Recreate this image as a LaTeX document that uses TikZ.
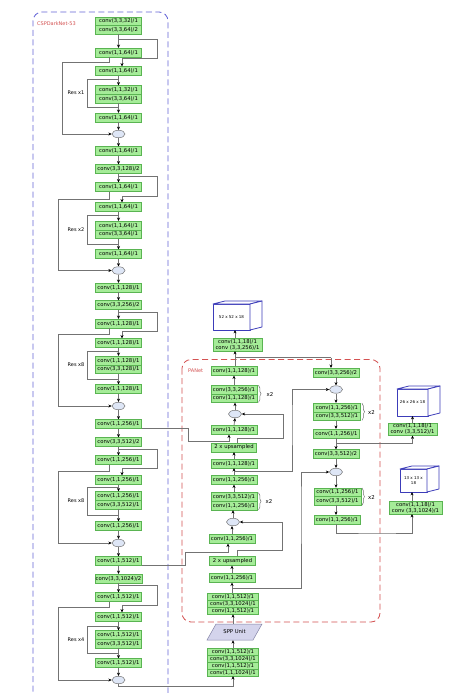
\documentclass[tikz,border=0pt]{standalone}
\usepackage{fontspec}
\setmainfont{DejaVu Sans}
\usetikzlibrary{arrows.meta,decorations.pathreplacing,shapes.geometric,calc}
\definecolor{bfill}{RGB}{165,236,152}
\definecolor{bdraw}{RGB}{90,180,82}
\definecolor{lgray}{RGB}{115,115,115}
\definecolor{efill}{RGB}{222,230,246}
\definecolor{bluedash}{RGB}{100,100,215}
\definecolor{reddash}{RGB}{212,82,82}
\definecolor{cubeblue}{RGB}{60,60,185}
\definecolor{sppfill}{RGB}{212,212,236}
\definecolor{sppdraw}{RGB}{130,130,165}
\newcommand\mycubeat[4]{%
  \filldraw[cb] (#1,#2) rectangle ({#1+#3},{#2+#4});
  \filldraw[cb] (#1,#2) -- ({#1+12},{#2-3}) -- ({#1+#3+12},{#2-3}) -- ({#1+#3},#2) -- cycle;
  \filldraw[cb] ({#1+#3},#2) -- ({#1+#3+12},{#2-3}) -- ({#1+#3+12},{#2+#4-3}) -- ({#1+#3},{#2+#4}) -- cycle;
}
\begin{document}
\begin{tikzpicture}[x=1pt,y=-1pt,
  cv/.style={draw=bdraw,fill=bfill,line width=0.5pt,inner xsep=0.5pt,inner ysep=0pt,minimum width=46,minimum height=8.6,font=\fontsize{5.3}{6}\selectfont},
  cs/.style={cv,minimum width=51,minimum height=6.8},
  co/.style={cv,align=center,minimum height=12.5,font=\fontsize{5.3}{5.9}\selectfont},
  el/.style={ellipse,draw=lgray,fill=efill,line width=0.5pt,minimum width=13,minimum height=7.5,inner sep=0pt},
  ln/.style={draw=lgray,line width=0.75pt},
  ar/.style={ln,-{Stealth[length=3.4pt,width=3pt,color=black]}},
  brc/.style={draw=lgray,line width=0.5pt,decorate,decoration={brace,amplitude=2.5pt}},
  xl/.style={font=\fontsize{5.4}{6}\selectfont,inner sep=0pt},
  rl/.style={font=\fontsize{5}{6}\selectfont,inner sep=0pt},
  redl/.style={text=reddash,font=\fontsize{5}{6}\selectfont,inner sep=0pt},
  cb/.style={draw=cubeblue,fill=white,line width=0.8pt,line join=round},
  cl/.style={font=\fontsize{4}{4.8}\selectfont,inner sep=0pt,align=center},
  bdash/.style={draw=bluedash,line width=0.8pt,dash pattern=on 6pt off 3.5pt},
  rdash/.style={draw=reddash,line width=0.8pt,dash pattern=on 6pt off 3.5pt}
]
\useasboundingbox (0,0) rectangle (474,693);
\fill[white] (0,0) rectangle (474,693);

% ---------- frames ----------
\begin{scope}
\clip (0,0) rectangle (474,693);
\draw[bdash,rounded corners=9] (33,720) -- (33,12) -- (168,12) -- (168,720);
\end{scope}
\node[redl,anchor=west] (lblcsp) at (37,24) {CSPDarkNet-53};

% ---------- backbone nodes ----------
\node[cv] (b1) at (118.5,21.3) {conv(3,3,32)/1};
\node[cv] (b2) at (118.5,29.9) {conv(3,3,64)/2};
\node[cv] (S1) at (118.5,52.5) {conv(1,1,64)/1};
\node[cv] (M1) at (118.5,71) {conv(1,1,64)/1};
\node[cv] (P1a) at (118.5,90) {conv(1,1,32)/1};
\node[cv] (P1b) at (118.5,98.6) {conv(3,3,64)/1};
\node[cv] (T1) at (118.5,117.5) {conv(1,1,64)/1};
\node[el] (E1) at (118.5,134) {};

\node[cv] (c2a) at (118.5,151) {conv(1,1,64)/1};
\node[cv] (c2b) at (118.5,169) {conv(3,3,128)/2};
\node[cv] (S2) at (118.5,187) {conv(1,1,64)/1};
\node[cv] (M2) at (118.5,207) {conv(1,1,64)/1};
\node[cv] (P2a) at (118.5,225.5) {conv(1,1,64)/1};
\node[cv] (P2b) at (118.5,234.1) {conv(3,3,64)/1};
\node[cv] (T2) at (118.5,254) {conv(1,1,64)/1};
\node[el] (E2) at (118.5,270.5) {};

\node[cv] (c3a) at (118.5,287.5) {conv(1,1,128)/1};
\node[cv] (c3b) at (118.5,305) {conv(3,3,256)/2};
\node[cv] (S3) at (118.5,323.5) {conv(1,1,128)/1};
\node[cv] (M3) at (118.5,343) {conv(1,1,128)/1};
\node[cv] (P3a) at (118.5,360.5) {conv(1,1,128)/1};
\node[cv] (P3b) at (118.5,369.1) {conv(3,3,128)/1};
\node[cv] (T3) at (118.5,389) {conv(1,1,128)/1};
\node[el] (E3) at (118.5,406) {};

\node[cv] (c4a) at (118.5,424) {conv(1,1,256)/1};
\node[cv] (c4b) at (118.5,442) {conv(3,3,512)/2};
\node[cv] (S4) at (118.5,460) {conv(1,1,256)/1};
\node[cv] (M4) at (118.5,480) {conv(1,1,256)/1};
\node[cv] (P4a) at (118.5,496) {conv(1,1,256)/1};
\node[cv] (P4b) at (118.5,504.6) {conv(3,3,512)/1};
\node[cv] (T4) at (118.5,526) {conv(1,1,256)/1};
\node[el] (E4) at (118.5,543) {};

\node[cv] (c5a) at (118.5,561) {conv(1,1,512)/1};
\node[cv] (c5b) at (118.5,578.5) {conv(3,3,1024)/2};
\node[cv] (S5) at (118.5,597) {conv(1,1,512)/1};
\node[cv] (M5) at (118.5,617) {conv(1,1,512)/1};
\node[cv] (P5a) at (118.5,635) {conv(1,1,512)/1};
\node[cv] (P5b) at (118.5,643.6) {conv(3,3,512)/1};
\node[cv] (T5) at (118.5,663) {conv(1,1,512)/1};
\node[el] (E5) at (118.5,680) {};

\node[rl] (r1) at (76,93) {Res x1};
\node[rl] (r2) at (76,229.5) {Res x2};
\node[rl] (r3) at (76,365) {Res x8};
\node[rl] (r4) at (76,501) {Res x8};
\node[rl] (r5) at (76,639.5) {Res x4};

% ---------- backbone wiring ----------
\foreach \bD/\bS/\bM/\bPa/\bPb/\bT/\bE/\th/\lh/\sh/\lx/\rt/\rb in {
  b2/S1/M1/P1a/P1b/T1/E1/39.3/58.5/62/62/79/107,
  c2b/S2/M2/P2a/P2b/T2/E2/176/196.5/199/58/215/244,
  c3b/S3/M3/P3a/P3b/T3/E3/312/331.5/334/58/351/379,
  c4b/S4/M4/P4a/P4b/T4/E4/449/468/471/58/487.5/515,
  c5b/S5/M5/P5a/P5b/T5/E5/585/605/607.5/58/626/653}
{
  \draw[ar] (\bD.south) -- (\bS.north);
  \draw[ar] (118.5,\th) -- (157,\th) -- (157,\lh) -- (122,\lh) -- ($(\bM.north)+(3.5,0)$);
  \draw[ar] ($(\bS.south)+(-9.5,0)$) |- (\lx,\sh) |- (\bE.west);
  \draw[ar] (\bM.south) -- (\bPa.north);
  \draw[ln] (118.5,\rt) -- (87,\rt) -- (87,\rb) -- (118.5,\rb);
  \draw[ar] (\bPb.south) -- (\bT.north);
  \draw[ar] (\bT.south) -- (\bE.north);
}
\draw[ar] (E1.south) -- (c2a.north);
\draw[ar] (c2a.south) -- (c2b.north);
\draw[ar] (E2.south) -- (c3a.north);
\draw[ar] (c3a.south) -- (c3b.north);
\draw[ar] (E3.south) -- (c4a.north);
\draw[ar] (c4a.south) -- (c4b.north);
\draw[ar] (E4.south) -- (c5a.north);
\draw[ar] (c5a.south) -- (c5b.north);

% ---------- PANet frame ----------
\draw[ln] (235,357.5) -- (331,357.5);
\draw[rdash,rounded corners=9] (182,359.5) rectangle (380,622);
\node[redl,anchor=west] (lblpan) at (188,371) {PANet};

% ---------- cubes ----------
\mycubeat{213}{304}{37}{26}
\node[cl] (t52) at (231.5,317) {52 x 52 x 18};
\coordinate (cube52b) at (235,330);
\mycubeat{397}{389}{31}{27}
\node[cl] (t26) at (412.5,402) {26 x 26 x 18};
\coordinate (cube26b) at (412.5,416);
\mycubeat{400}{469}{27}{23}
\node[cl] (t13) at (413.5,480.5) {13 x 13 x\\18};
\coordinate (cube13b) at (412,492);

% ---------- output boxes ----------
\node[co,minimum width=49] (o52) at (237.5,344.5) {conv(1,1,18)/1\\conv (3,3,256)/1};
\node[co,minimum width=49] (o26) at (412.5,429) {conv(1,1,18)/1\\conv (3,3,512)/1};
\node[co,minimum width=53] (o13) at (415.5,507.5) {conv(1,1,18)/1\\conv (3,3,1024)/1};

% ---------- PANet left column ----------
\node[cv] (Q1) at (234,371) {conv(1,1,128)/1};
\node[cv] (Q2a) at (234,389.5) {conv(3,3,256)/1};
\node[cv] (Q2b) at (234,398.1) {conv(1,1,128)/1};
\node[el] (QE1) at (235,414) {};
\node[cv] (Q3) at (234,430) {conv(1,1,128)/1};
\node[cv,minimum width=45] (Q4) at (234,447.5) {2 x upsampled};
\node[cv] (Q5) at (234,463.5) {conv(1,1,128)/1};
\node[cv] (Q6) at (234,480) {conv(1,1,256)/1};
\node[cv] (Q7a) at (234,497) {conv(3,3,512)/1};
\node[cv] (Q7b) at (234,505.6) {conv(1,1,256)/1};
\node[el] (QE2) at (233,522) {};
\node[cv] (Q8) at (232,539) {conv(1,1,256)/1};
\node[cv] (Q9) at (232.5,561) {2 x upsampled};
\node[cv] (Q10) at (232,578) {conv(1,1,256)/1};
\node[cs] (Q11a) at (233,597) {conv(1,1,512)/1};
\node[cs] (Q11b) at (233,603.8) {conv(3,3,1024)/1};
\node[cs] (Q11c) at (233,610.6) {conv(1,1,512)/1};
\fill[sppfill,draw=sppdraw,line width=0.5pt] (216,624) -- (262,624) -- (253,640) -- (207,640) -- cycle;
\node[inner sep=0pt,minimum width=46,minimum height=16,font=\fontsize{5.3}{6}\selectfont] (spp) at (234.5,632) {SPP Unit};
\node[cs] (Q12a) at (233,652) {conv(1,1,512)/1};
\node[cs] (Q12b) at (233,658.8) {conv(3,3,1024)/1};
\node[cs] (Q12c) at (233,665.6) {conv(1,1,512)/1};
\node[cs] (Q12d) at (233,672.4) {conv(1,1,1024)/1};

\draw[brc] (258.5,385.2) -- (258.5,402.4);
\node[xl] (xa) at (270,394) {x2};
\draw[brc] (258.5,492.7) -- (258.5,509.9);
\node[xl] (xb) at (269,501.5) {x2};

% ---------- right column ----------
\node[cv] (R1) at (336,372.5) {conv(3,3,256)/2};
\node[el] (RE1) at (336,389.5) {};
\node[cv,minimum width=47] (R2a) at (337,407.5) {conv(1,1,256)/1};
\node[cv,minimum width=47] (R2b) at (337,416.1) {conv(3,3,512)/1};
\node[cv] (R3) at (336.5,433.5) {conv(1,1,256)/1};
\node[cv] (R4) at (336,454) {conv(3,3,512)/2};
\node[el] (RE2) at (336,472) {};
\node[cv,minimum width=47] (R5a) at (337.5,492.3) {conv(1,1,256)/1};
\node[cv,minimum width=47] (R5b) at (337.5,500.9) {conv(3,3,512)/1};
\node[cv] (R6) at (337,519.5) {conv(1,1,256)/1};
\draw[brc] (362,403.2) -- (362,420.4);
\node[xl] (xc) at (371.5,412) {x2};
\draw[brc] (362,488) -- (362,505.2);
\node[xl] (xd) at (371.5,497) {x2};

% ---------- PANet wiring ----------
\draw[ar] ($(Q1.north)+(1,0)$) -- ($(o52.south)+(-2.5,0)$);
\draw[ar] ($(o52.north)+(-2.5,0)$) -- (cube52b);
\draw[ar] (331,357.5) -- ($(R1.north)+(-5,0)$);
\draw[ar] (Q2a.north) -- (Q1.south);
\draw[ar] (QE1.north) -- ($(Q2b.south)+(1,0)$);
\draw[ar] (Q3.north) -- (QE1.south);
\draw[ar] (c4a.south east) -| (188,441) -| ($(Q3.south)+(-5,0)$);
\draw[ar] ($(Q4.north)+(3,0)$) |- (283,438) |- (QE1.east);
\draw[ar] (Q5.north) -- (Q4.south);
\draw[ar] (Q6.north) -- (Q5.south);
\draw[ar] (234,471.5) -| (292,420) |- (RE1.west);
\draw[ar] (Q7a.north) -- (Q6.south);
\draw[ar] (QE2.north) -- ($(Q7b.south)+(-1,0)$);
\draw[ar] (Q8.north) -- ($(QE2.south)+(-1,0)$);
\draw[ar] (c5a.south east) -| (185,552) -| ($(Q8.south)+(-4,0)$);
\draw[ar] ($(Q9.north)+(5,0)$) |- (282,550) |- (QE2.east);
\draw[ar] (Q10.north) -- ($(Q9.south)+(-0.5,0)$);
\draw[ar] ($(Q11a.north)+(-1,0)$) -- (Q10.south);
\draw[ar] (233,588) -| (301,500) |- (RE2.west);
\draw[ar] ($(spp.north)+(-1.5,0)$) -- (Q11c.south);
\draw[ar] (Q12a.north) -- ($(spp.south)+(-1.5,0)$);
\draw[ar] (E5.south) -- (118.5,686.5) -| (Q12d.south);

% ---------- right column wiring ----------
\draw[ar] (R1.south) -- (RE1.north);
\draw[ar] (RE1.south) -- ($(R2a.north)+(-1,0)$);
\draw[ar] ($(R2b.south)+(-1,0)$) -- ($(R3.north)+(-0.5,0)$);
\draw[ar] ($(R3.south)+(-0.5,0)$) -- (R4.north);
\draw[ar] (336,443) -| (o26.south);
\draw[ar] (o26.north) -- (cube26b);
\draw[ar] (R4.south) -- (RE2.north);
\draw[ar] (RE2.south) -- ($(R5a.north)+(-1.5,0)$);
\draw[ar] ($(R5b.south)+(-1.5,0)$) -- ($(R6.north)+(-1,0)$);
\draw[ar] ($(R6.south)+(-1,0)$) |- (380,533) -| ($(o13.south)+(-3.5,0)$);
\draw[ar] ($(o13.north)+(-3.5,0)$) -- (cube13b);
\end{tikzpicture}
\end{document}
